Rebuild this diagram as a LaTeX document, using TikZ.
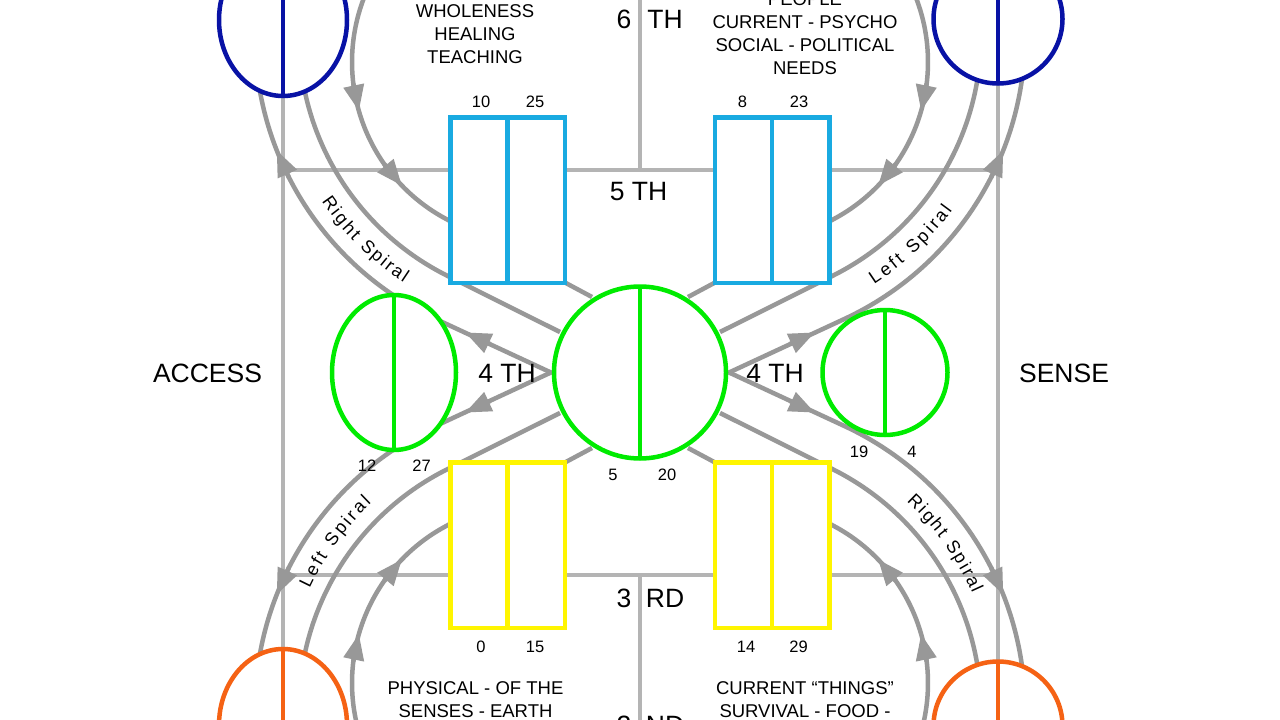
\documentclass[tikz,border=0pt]{standalone}
\usepackage{fontspec}
\setmainfont{Liberation Sans}
\usetikzlibrary{shapes.geometric,arrows.meta,decorations.text,calc}
\definecolor{cblue}{RGB}{8,18,165}
\definecolor{ccyan}{RGB}{25,170,225}
\definecolor{cgreen}{RGB}{0,235,0}
\definecolor{cyellow}{RGB}{255,245,0}
\definecolor{corange}{RGB}{245,98,20}
\definecolor{cgray}{RGB}{152,152,152}
\definecolor{ggray}{RGB}{180,180,180}
\pgfdeclarelayer{back}
\pgfsetlayers{back,main}
\newcommand{\bigfont}{\fontsize{26.5}{30}\selectfont}
\newcommand{\midfont}{\fontsize{18.5}{23}\selectfont}
\newcommand{\numfont}{\fontsize{16.5}{18}\selectfont}
\newcommand{\spfont}{\fontsize{18}{18}\selectfont}
\tikzset{
  gridline/.style={draw=ggray, line width=4pt},
  spiralline/.style={draw=cgray, line width=4.5pt},
  arr/.style={draw=cgray, line width=4.5pt, -{Triangle[length=26pt,width=20pt]}},
  shp/.style={line width=4.5pt, fill=white, inner sep=0pt, outer sep=0pt},
  bigtxt/.style={font=\bigfont, inner sep=0pt},
  midtxt/.style={font=\midfont, align=center, inner sep=0pt},
  numtxt/.style={font=\numfont, inner sep=0pt},
}
% curves of one quadrant (top-left); mirrored for the others
\newcommand{\quadcurves}{%
  \draw[spiralline] (592,297) -- plot[domain=118.14:215, samples=60, variable=\t] ({530+178*cos(\t)},{62+178*sin(\t)});
  \draw[spiralline] (560,332) -- plot[domain=116.55:178, samples=60, variable=\t] ({567+268*cos(\t)},{36+268*sin(\t)});
  \draw[spiralline] (552,373) -- plot[domain=115.07:178, samples=60, variable=\t] ({567+312*cos(\t)},{36+312*sin(\t)});
  \draw[arr] ({530+178*cos(173)},{62+178*sin(173)}) -- ({530+178*cos(164)},{62+178*sin(164)});
  \draw[arr] ({530+178*cos(145)},{62+178*sin(145)}) -- ({530+178*cos(136)},{62+178*sin(136)});
  \draw[arr] ({567+312*cos(153)},{36+312*sin(153)}) -- ({567+312*cos(158.5)},{36+312*sin(158.5)});
  \draw[arr] ($(552,373)!0.525!(434.6,318.1)$) -- ($(552,373)!0.74!(434.6,318.1)$);
}
\begin{document}
\begin{tikzpicture}[x=1pt,y=-1pt]
\useasboundingbox (0,0) rectangle (1280,720);

% ---- shapes ----
\node[shp, ellipse, draw=cblue, minimum width=128pt, minimum height=152pt] (btl) at (283,20) {};
\node[shp, circle, draw=cblue, minimum size=129pt] (btr) at (998,19) {};
\node[shp, ellipse, draw=corange, minimum width=128pt, minimum height=152pt] (obl) at (283,725) {};
\node[shp, circle, draw=corange, minimum size=129pt] (obr) at (998,726) {};
\node[shp, ellipse, draw=cgreen, minimum width=124pt, minimum height=155pt] (gl) at (394,372.5) {};
\node[shp, circle, draw=cgreen, minimum size=125pt] (gr) at (885,372.5) {};
\node[shp, circle, draw=cgreen, minimum size=172pt] (gc) at (640,372.5) {};
\node[shp, rectangle, draw=ccyan, minimum width=114.5pt, minimum height=165.5pt] (rtl) at (507.5,200) {};
\node[shp, rectangle, draw=ccyan, minimum width=114.5pt, minimum height=165.5pt] (rtr) at (772,200) {};
\node[shp, rectangle, draw=cyellow, minimum width=114.5pt, minimum height=165.5pt] (ybl) at (507.5,545) {};
\node[shp, rectangle, draw=cyellow, minimum width=114.5pt, minimum height=165.5pt] (ybr) at (772,545) {};
\foreach \n/\c in {btl/cblue,btr/cblue,obl/corange,obr/corange,gl/cgreen,gr/cgreen,gc/cgreen,rtl/ccyan,rtr/ccyan,ybl/cyellow,ybr/cyellow}
  \draw[\c, line width=4.5pt] (\n.north) -- (\n.south);

% ---- grid and spiral curves behind the shapes ----
\coordinate (h5l) at (283,170);
\coordinate (h5r) at (998,170);
\coordinate (h3l) at (283,575);
\coordinate (h3r) at (998,575);
\coordinate (v6t) at (640,-5);
\coordinate (v6b) at (640,170);
\coordinate (v2t) at (640,575);
\coordinate (v2b) at (640,725);
\begin{pgfonlayer}{back}
  \fill[white] (0,0) rectangle (1280,720);
  \draw[gridline] (btl.south) -- (obl.north);
  \draw[gridline] (btr.south) -- (obr.north);
  \draw[gridline] (h5l) -- (h5r);
  \draw[gridline] (h3l) -- (h3r);
  \draw[gridline] (v6t) -- (v6b);
  \draw[gridline] (v2t) -- (v2b);
  \quadcurves
  \begin{scope}[shift={(1280,0)}, xscale=-1] \quadcurves \end{scope}
  \begin{scope}[shift={(0,745)}, yscale=-1] \quadcurves \end{scope}
  \begin{scope}[shift={(1280,745)}, xscale=-1, yscale=-1] \quadcurves \end{scope}
\end{pgfonlayer}

% ---- spiral labels ----
\path[decorate, decoration={text along path, text={|\spfont|Right Spiral}, text align={fit to path}}]
  plot[domain=146:123.5, samples=30, variable=\t] ({567+296*cos(\t)},{36+296*sin(\t)});
\path[decorate, decoration={text along path, text={|\spfont|Left Spiral}, text align={fit to path}}]
  plot[domain=57:36, samples=30, variable=\t] ({713+296*cos(\t)},{36+296*sin(\t)});
\path[decorate, decoration={text along path, text={|\spfont|Left Spiral}, text align={fit to path}}]
  plot[domain=205:226.5, samples=30, variable=\t] ({567+284*cos(\t)},{709+284*sin(\t)});
\path[decorate, decoration={text along path, text={|\spfont|Right Spiral}, text align={fit to path}}]
  plot[domain=313:336, samples=30, variable=\t] ({713+284*cos(\t)},{709+284*sin(\t)});

% ---- texts ----
\node[bigtxt] (access) at (207.5,373) {ACCESS};
\node[bigtxt] (sense) at (1064,373) {SENSE};
\node[bigtxt] (n6) at (624,19) {6};
\node[bigtxt] (th6) at (665,19) {TH};
\node[bigtxt] (l5) at (638.5,192) {5 TH};
\node[bigtxt] (l4l) at (507,373) {4 TH};
\node[bigtxt] (l4r) at (775,373) {4 TH};
\node[bigtxt] (n3) at (624,598) {3};
\node[bigtxt] (rd3) at (665,598) {RD};
\node[bigtxt] (n2) at (624,725) {2};
\node[bigtxt] (nd2) at (665,725) {ND};
\node[midtxt] (t6l) at (475,34.5) {WHOLENESS\\HEALING\\TEACHING};
\node[midtxt] (t6r) at (805,34) {PEOPLE\\CURRENT - PSYCHO\\SOCIAL - POLITICAL\\NEEDS};
\node[midtxt] (t2l) at (475.5,699.5) {PHYSICAL - OF THE\\SENSES - EARTH};
\node[midtxt] (t2r) at (805,699.5) {CURRENT “THINGS”\\SURVIVAL - FOOD -};

\node[numtxt] (a10) at (481,102) {10};
\node[numtxt] (a25) at (535,102) {25};
\node[numtxt] (a8) at (742.5,102) {8};
\node[numtxt] (a23) at (799,102) {23};
\node[numtxt] (a12) at (367,466) {12};
\node[numtxt] (a27) at (421.5,466) {27};
\node[numtxt] (a5) at (613,475) {5};
\node[numtxt] (a20) at (667,475) {20};
\node[numtxt] (a19) at (859,452) {19};
\node[numtxt] (a4) at (912,452) {4};
\node[numtxt] (a0) at (481,647) {0};
\node[numtxt] (a15) at (535,647) {15};
\node[numtxt] (a14) at (746,647) {14};
\node[numtxt] (a29) at (798.5,647) {29};
\end{tikzpicture}
\end{document}
